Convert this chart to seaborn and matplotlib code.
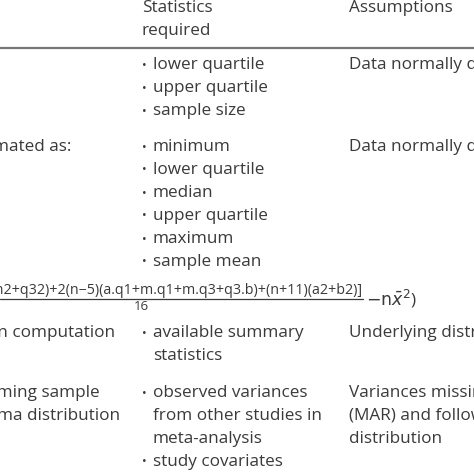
import matplotlib
matplotlib.use("Agg")
import matplotlib.pyplot as plt
import seaborn as sns

sns.set_theme(style="white")
plt.rcParams['font.family'] = ['Open Sans', 'DejaVu Sans']

# table content (cropped view of a methods table)
header_stats = ["Statistics", "required"]
header_assump = "Assumptions"
row1_stats = ["lower quartile", "upper quartile", "sample size"]
row1_assump = ["Data normally distributed"]
row2_method = ["Variance estimated as:"]
row2_stats = ["minimum", "lower quartile", "median", "upper quartile", "maximum", "sample mean"]
row2_assump = ["Data normally distributed"]
formula_num = "(m2+q32)+2(n\u22125)(a.q1+m.q1+m.q3+q3.b)+(n+11)(a2+b2)]"
formula_den = "16"
formula_tail = r"$-\mathrm{n}\bar{x}^2$)"
row3_method = ["Imputation computation"]
row3_stats = [("available summary", True), ("statistics", False)]
row3_assump = ["Underlying distribution"]
row4_method = ["Imputation assuming sample", "variances follow gamma distribution"]
row4_stats = [("observed variances", True), ("from other studies in", False),
              ("meta-analysis", False), ("study covariates", True)]
row4_assump = ["Variances missing at random", "(MAR) and follow gamma", "distribution"]

col = "#3a3a3a"
fs = 12.3
lh = 23

fig = plt.figure(figsize=(4.74, 4.74), dpi=100)
ax = fig.add_axes([0, 0, 1, 1])
ax.set_xlim(0, 474)
ax.set_ylim(474, 0)
ax.axis("off")

def txt(x, y, s, ha="left", size=fs):
    ax.text(x, y, s, ha=ha, va="center", fontsize=size, color=col)

def bullets(y0, items):
    for i, it in enumerate(items):
        if isinstance(it, tuple):
            it, b = it
        else:
            b = True
        y = y0 + i * lh
        if b:
            txt(142, y, "\u2022", size=9)
        txt(153, y, it)

# header
for i, s in enumerate(header_stats):
    txt(142, 8 + i * lh, s)
txt(349, 8, header_assump)
ax.plot([0, 474], [48, 48], color="#777777", lw=1.6)

# row 1
bullets(65, row1_stats)
txt(349, 65, row1_assump[0])

# row 2
txt(71, 147, row2_method[0], ha="right")
bullets(147, row2_stats)
txt(349, 147, row2_assump[0])

# formula
txt(363, 290, formula_num, ha="right", size=10.3)
ax.plot([0, 363], [299, 299], color=col, lw=0.9)
txt(134, 307, formula_den, size=9.5)
txt(366, 299, formula_tail, size=12.5)

# row 3
txt(115, 333, row3_method[0], ha="right")
bullets(333, row3_stats)
txt(349, 333, row3_assump[0])

# row 4
for i, s in enumerate(row4_method):
    txt(100 if i == 0 else 120, 393 + i * lh, s, ha="right")
bullets(393, row4_stats)
for i, s in enumerate(row4_assump):
    txt(349, 393 + i * lh, s)

fig.savefig("out.png", dpi=100, facecolor="white")
